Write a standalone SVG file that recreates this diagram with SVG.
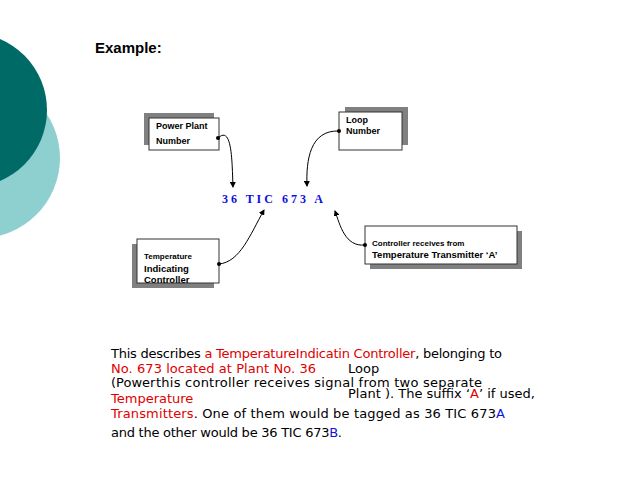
<svg xmlns="http://www.w3.org/2000/svg" width="638" height="478" viewBox="0 0 638 478">
<defs>
<marker id="ah" markerWidth="6" markerHeight="6" refX="5" refY="3" orient="auto"><path d="M0,0 L6,3 L0,6 z" fill="#000"/></marker>
<style>
.sh{fill:#808080}.bx{fill:#fff;stroke:#333;stroke-width:1}
.l{font-family:"Liberation Sans",Arial,sans-serif;font-weight:bold;fill:#000}
.c{fill:none;stroke:#000;stroke-width:1;marker-end:url(#ah)}
.t{font-family:"DejaVu Sans",sans-serif;font-size:13px;fill:#000}
.r{fill:#e00000}.b{fill:#1010e0}
</style>
</defs>
<rect width="638" height="478" fill="#fff"/>
<circle cx="-20" cy="158" r="80" fill="#8ecfcf"/>
<circle cx="-30" cy="110" r="77" fill="#006a66"/>
<text x="95" y="53" class="l" font-size="15">Example:</text>
<g id="power"><rect class="sh" x="144" y="113" width="70" height="32"/><rect class="bx" x="149" y="118" width="70" height="32"/>
<text class="l" font-size="9" x="156" y="129">Power Plant</text><text class="l" font-size="9" x="156" y="144">Number</text></g>
<g id="loop"><rect class="sh" x="345" y="107" width="63" height="38"/><rect class="bx" x="339" y="112" width="63" height="38"/>
<text class="l" font-size="9" x="346" y="123">Loop</text><text class="l" font-size="9" x="346" y="134">Number</text></g>
<g id="tic"><rect class="sh" x="132" y="244" width="82" height="44"/><rect class="bx" x="137" y="239" width="82" height="44"/>
<text class="l" font-size="8" x="144" y="259" font-weight="normal">Temperature</text><text class="l" font-size="9.5" x="144" y="272">Indicating</text><text class="l" font-size="9.5" x="144" y="283">Controller</text></g>
<g id="ctrl"><rect class="sh" x="370" y="231" width="152" height="38"/><rect class="bx" x="365" y="226" width="152" height="38"/>
<text class="l" font-size="8" x="372" y="246">Controller receives from</text><text class="l" font-size="9.5" x="372" y="258">Temperature Transmitter ‘A’</text></g>
<text id="tag" x="222" y="203" font-family="Liberation Serif,serif" font-weight="bold" font-size="12" fill="#1010e0" xml:space="preserve">3 6   T I C   6 7 3   A</text>
<g id="connectors">
<circle cx="218" cy="138" r="2"/><path class="c" d="M218,138 C232,125 232,160 233,187"/>
<circle cx="339" cy="131" r="2"/><path class="c" d="M339,131 C310,130 306,160 307,186"/>
<circle cx="219" cy="264" r="2"/><path class="c" d="M219,264 C240,262 250,235 264,210"/>
<circle cx="365" cy="245" r="2"/><path class="c" d="M365,245 C345,247 340,225 335,211"/>
</g>
<g id="desc" xml:space="preserve">
<text class="t" x="111" y="358" textLength="391" lengthAdjust="spacing">This  describes  <tspan class="r">a  TemperatureIndicatin  Controller</tspan>, belonging  to</text>
<text class="t r" x="111" y="373" textLength="205" lengthAdjust="spacing">No. 673 located at Plant No. 36</text>
<text class="t" x="348" y="373">Loop</text>
<text class="t" x="156" y="387" textLength="326" lengthAdjust="spacing">this  controller  receives  signal  from  two  separate</text>
<text class="t" x="111" y="387">(Power</text>
<text class="t" x="348" y="398" font-size="10.5">Plant ). The suffix ‘<tspan class="r">A</tspan>’ if used,</text>
<text class="t r" x="111" y="403">Temperature</text>
<text class="t" x="111" y="418" textLength="394" lengthAdjust="spacing"><tspan class="r">Transmitters</tspan>. One  of  them  would  be  tagged  as  36  TIC  673<tspan class="b">A</tspan></text>
<text class="t" x="111" y="437" textLength="231" lengthAdjust="spacing">and  the other would be 36 TIC 673<tspan class="b">B</tspan>.</text>
</g>
</svg>
